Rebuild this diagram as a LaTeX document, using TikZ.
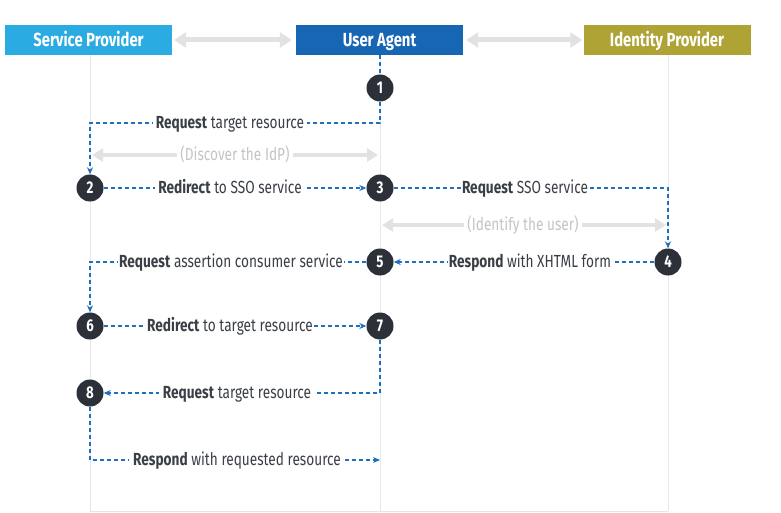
\documentclass[tikz,border=0pt]{standalone}
\usepackage{fontspec}
\setmainfont{Fira Sans}[FakeStretch=0.78]
\usetikzlibrary{arrows.meta}
\definecolor{spc}{HTML}{2AABE2}
\definecolor{uac}{HTML}{1766B4}
\definecolor{idc}{HTML}{AFA336}
\definecolor{dark}{HTML}{2C3139}
\definecolor{txt}{HTML}{3A3F47}
\definecolor{msgc}{HTML}{1E6FC2}
\definecolor{garc}{HTML}{E2E2E2}
\definecolor{gtxt}{HTML}{C4C4C4}
\definecolor{life}{HTML}{E6E6E6}
\begin{document}
\begin{tikzpicture}[x=1pt,y=-1pt,
  head/.style={minimum width=167pt,minimum height=30pt,inner sep=0pt,text=white,text height=13pt,text depth=4pt,font=\fontsize{19}{21}\selectfont\bfseries},
  htext/.style={text=white,inner sep=0pt,font=\fontsize{19}{21}\selectfont\bfseries},
  num/.style={circle,fill=dark,minimum size=27pt,inner sep=0pt,text=white,font=\fontsize{17}{19}\selectfont\bfseries},
  msg/.style={draw=msgc,line width=1.3pt,dash pattern=on 4pt off 3pt},
  tip/.style={-{Stealth[length=7pt,width=6pt]}},
  lbl/.style={fill=white,inner xsep=3pt,inner ysep=1pt,text height=12pt,text depth=3.5pt,yshift=-1.5pt,text=txt,font=\fontsize{17.5}{19}\selectfont},
  glbl/.style={fill=white,inner xsep=3pt,inner ysep=1pt,text height=12pt,text depth=3.5pt,yshift=-1.5pt,text=gtxt,font=\fontsize{17.5}{19}\selectfont},
  gar/.style={draw=garc,line width=5pt,{Triangle[length=12pt,width=15pt]}-{Triangle[length=12pt,width=15pt]}},
  gar2/.style={draw=garc,line width=4pt,{Triangle[length=11pt,width=13pt]}-{Triangle[length=11pt,width=13pt]}},
  lifeline/.style={draw=life,line width=1pt}]
\useasboundingbox (0,0) rectangle (781,513);
% headers
\node[minimum width=167pt,minimum height=30pt,fill=spc] (sp) at (88.5,40) {};
\node[minimum width=167pt,minimum height=30pt,fill=uac] (ua) at (379.5,40) {};
\node[minimum width=167pt,minimum height=30pt,fill=idc] (idp) at (667,40) {};
\node[htext,anchor=base] (spt) at (88.5,47) {Service Provider};
\node[htext,anchor=base] (uat) at (379.5,47) {User Agent};
\node[htext,anchor=base] (idpt) at (667,47) {Identity Provider};
% lifelines
\coordinate (spend) at (90,511);
\coordinate (uaend) at (380,511);
\coordinate (idend) at (668,511);
\draw[lifeline] (sp.south -| spend) -- (spend);
\draw[lifeline] (ua.south -| uaend) -- (uaend);
\draw[lifeline] (idp.south -| idend) -- (idend);
\draw[lifeline] (spend) -- (idend);
% header arrows
\draw[gar,shorten <=2pt,shorten >=4pt] (sp.east) -- (ua.west);
\draw[gar,shorten <=3pt,shorten >=1pt] (ua.east) -- (idp.west);
% circles
\node[num] (c1) at (380,88) {1};
\node[num] (c2) at (90,188) {2};
\node[num] (c3) at (380,188) {3};
\node[num] (c4) at (668,262) {4};
\node[num] (c5) at (380,262) {5};
\node[num] (c6) at (90,326) {6};
\node[num] (c7) at (380,326) {7};
\node[num] (c8) at (90,393) {8};
% step 1
\coordinate (m1a) at (380,123);
\coordinate (m1b) at (90,123);
\draw[msg] (ua.south -| c1) -- (c1);
\draw[msg,tip] (c1) -- (m1a) -- (m1b) -- (c2);
\node[lbl] (l1) at (230,123) {\textbf{Request} target resource};
% discover
\coordinate (d1) at (92,155);
\coordinate (d2) at (378,155);
\draw[gar2] (d1) -- (d2);
\node[glbl] (ld) at (235,155) {(Discover the IdP)};
% 2 -> 3
\draw[msg,tip] (c2) -- (c3);
\node[lbl] (l2) at (230,188) {\textbf{Redirect} to SSO service};
% 3 -> 4
\coordinate (m3a) at (668,188);
\draw[msg,tip] (c3) -- (m3a) -- (c4);
\node[lbl,inner xsep=1pt] (l3) at (525,188) {\textbf{Request} SSO service};
% identify
\coordinate (i1) at (382,225);
\coordinate (i2) at (666,225);
\draw[gar2] (i1) -- (i2);
\node[glbl] (li) at (523,225) {(Identify the user)};
% 4 -> 5
\draw[msg,tip] (c4) -- (c5);
\node[lbl,inner xsep=1pt] (l4) at (530,262) {\textbf{Respond} with XHTML form};
% 5 -> 6
\coordinate (m5a) at (90,262);
\draw[msg,tip] (c5) -- (m5a) -- (c6);
\node[lbl,inner xsep=1pt] (l5) at (231,262) {\textbf{Request} assertion consumer service};
% 6 -> 7
\draw[msg,tip] (c6) -- (c7);
\node[lbl,inner xsep=1pt] (l6) at (230,326) {\textbf{Redirect} to target resource};
% 7 -> 8
\coordinate (m7a) at (380,393);
\draw[msg,tip] (c7) -- (m7a) -- (c8);
\node[lbl,inner xsep=4pt] (l7) at (237,393) {\textbf{Request} target resource};
% 8 -> end
\coordinate (m8a) at (90,460);
\coordinate (m8b) at (380,460);
\draw[msg,tip] (c8) -- (m8a) -- (m8b);
\node[lbl,inner xsep=4pt] (l8) at (237,460) {\textbf{Respond} with requested resource};
\end{tikzpicture}
\end{document}
